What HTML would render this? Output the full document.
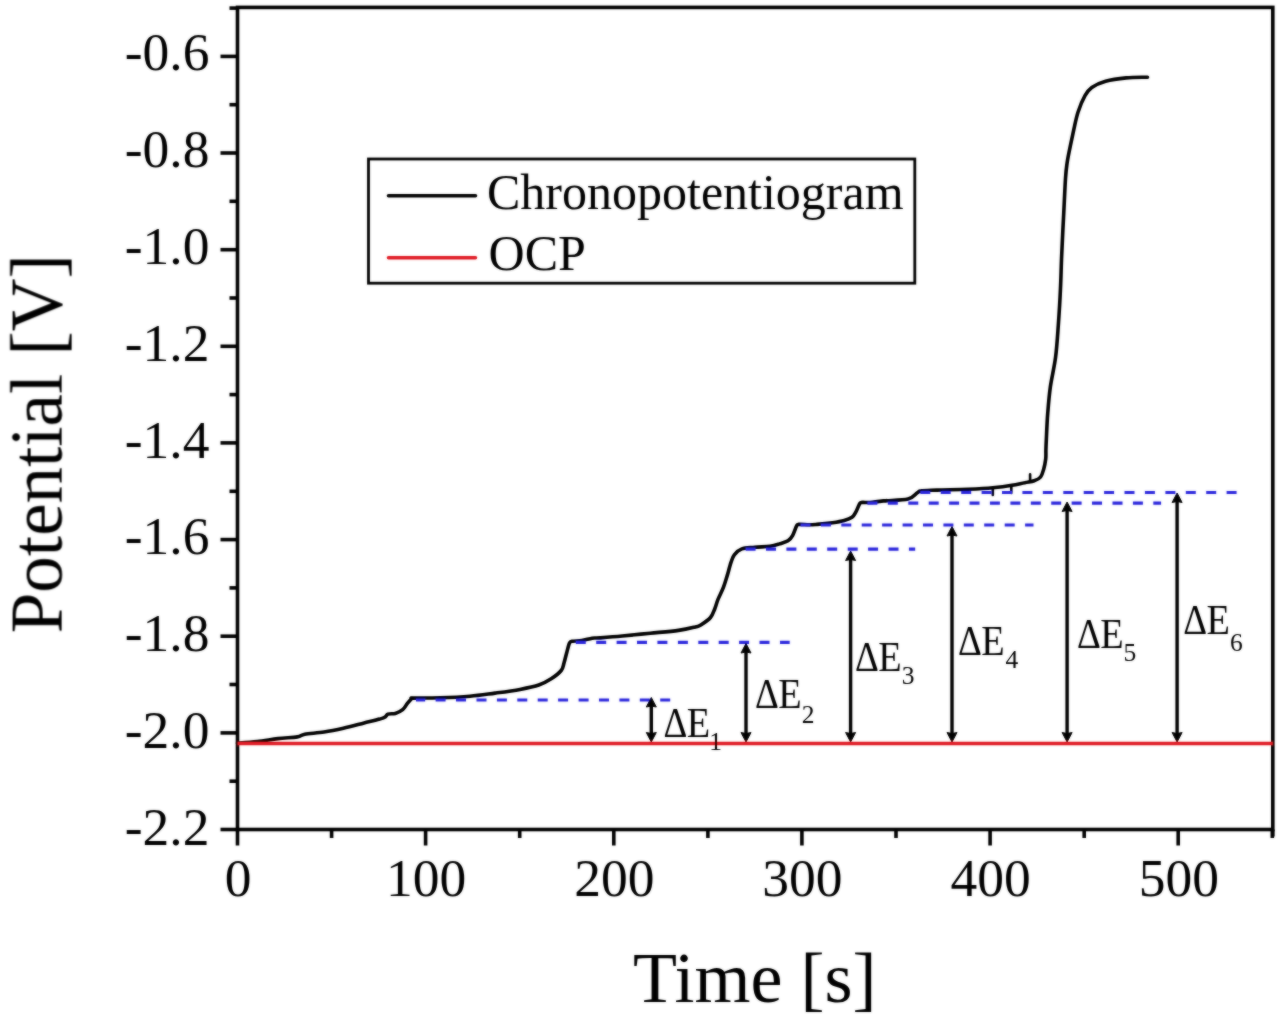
<!DOCTYPE html>
<html><head><meta charset="utf-8"><style>
html,body{margin:0;padding:0;background:#fff;width:1280px;height:1019px;overflow:hidden}
svg{display:block}
text{font-family:"Liberation Serif",serif;fill:#000}
</style></head><body>
<svg width="1280" height="1019" viewBox="0 0 1280 1019">
<defs><filter id="bl" x="-2%" y="-2%" width="104%" height="104%"><feGaussianBlur in="SourceGraphic" stdDeviation="1" result="b"/><feComposite in="SourceGraphic" in2="b" operator="arithmetic" k1="0" k2="0.50" k3="0.50" k4="0"/></filter></defs>
<g filter="url(#bl)">

<rect x="237.5" y="7.4" width="1035.3" height="822.1" fill="none" stroke="#000" stroke-width="3.6"/>
<line x1="220.5" y1="829.5" x2="237.5" y2="829.5" stroke="#000" stroke-width="3.6"/>
<text x="209.5" y="844.7" font-size="53.5" text-anchor="end">-2.2</text>
<line x1="229.5" y1="781.2" x2="237.5" y2="781.2" stroke="#000" stroke-width="3.6"/>
<line x1="220.5" y1="732.9" x2="237.5" y2="732.9" stroke="#000" stroke-width="3.6"/>
<text x="209.5" y="747.9" font-size="53.5" text-anchor="end">-2.0</text>
<line x1="229.5" y1="684.5" x2="237.5" y2="684.5" stroke="#000" stroke-width="3.6"/>
<line x1="220.5" y1="636.2" x2="237.5" y2="636.2" stroke="#000" stroke-width="3.6"/>
<text x="209.5" y="651.1" font-size="53.5" text-anchor="end">-1.8</text>
<line x1="229.5" y1="587.9" x2="237.5" y2="587.9" stroke="#000" stroke-width="3.6"/>
<line x1="220.5" y1="539.6" x2="237.5" y2="539.6" stroke="#000" stroke-width="3.6"/>
<text x="209.5" y="554.3" font-size="53.5" text-anchor="end">-1.6</text>
<line x1="229.5" y1="491.3" x2="237.5" y2="491.3" stroke="#000" stroke-width="3.6"/>
<line x1="220.5" y1="442.9" x2="237.5" y2="442.9" stroke="#000" stroke-width="3.6"/>
<text x="209.5" y="457.5" font-size="53.5" text-anchor="end">-1.4</text>
<line x1="229.5" y1="394.6" x2="237.5" y2="394.6" stroke="#000" stroke-width="3.6"/>
<line x1="220.5" y1="346.3" x2="237.5" y2="346.3" stroke="#000" stroke-width="3.6"/>
<text x="209.5" y="360.7" font-size="53.5" text-anchor="end">-1.2</text>
<line x1="229.5" y1="298.0" x2="237.5" y2="298.0" stroke="#000" stroke-width="3.6"/>
<line x1="220.5" y1="249.7" x2="237.5" y2="249.7" stroke="#000" stroke-width="3.6"/>
<text x="209.5" y="263.9" font-size="53.5" text-anchor="end">-1.0</text>
<line x1="229.5" y1="201.3" x2="237.5" y2="201.3" stroke="#000" stroke-width="3.6"/>
<line x1="220.5" y1="153.0" x2="237.5" y2="153.0" stroke="#000" stroke-width="3.6"/>
<text x="209.5" y="167.1" font-size="53.5" text-anchor="end">-0.8</text>
<line x1="229.5" y1="104.7" x2="237.5" y2="104.7" stroke="#000" stroke-width="3.6"/>
<line x1="220.5" y1="56.4" x2="237.5" y2="56.4" stroke="#000" stroke-width="3.6"/>
<text x="209.5" y="70.3" font-size="53.5" text-anchor="end">-0.6</text>
<line x1="229.5" y1="8.1" x2="237.5" y2="8.1" stroke="#000" stroke-width="3.6"/>
<line x1="237.5" y1="829.5" x2="237.5" y2="845.5" stroke="#000" stroke-width="3.6"/>
<text x="238.0" y="896" font-size="53.5" text-anchor="middle">0</text>
<line x1="331.6" y1="829.5" x2="331.6" y2="838.0" stroke="#000" stroke-width="3.6"/>
<line x1="425.6" y1="829.5" x2="425.6" y2="845.5" stroke="#000" stroke-width="3.6"/>
<text x="426.1" y="896" font-size="53.5" text-anchor="middle">100</text>
<line x1="519.7" y1="829.5" x2="519.7" y2="838.0" stroke="#000" stroke-width="3.6"/>
<line x1="613.8" y1="829.5" x2="613.8" y2="845.5" stroke="#000" stroke-width="3.6"/>
<text x="614.3" y="896" font-size="53.5" text-anchor="middle">200</text>
<line x1="707.9" y1="829.5" x2="707.9" y2="838.0" stroke="#000" stroke-width="3.6"/>
<line x1="801.9" y1="829.5" x2="801.9" y2="845.5" stroke="#000" stroke-width="3.6"/>
<text x="802.4" y="896" font-size="53.5" text-anchor="middle">300</text>
<line x1="896.0" y1="829.5" x2="896.0" y2="838.0" stroke="#000" stroke-width="3.6"/>
<line x1="990.1" y1="829.5" x2="990.1" y2="845.5" stroke="#000" stroke-width="3.6"/>
<text x="990.6" y="896" font-size="53.5" text-anchor="middle">400</text>
<line x1="1084.2" y1="829.5" x2="1084.2" y2="838.0" stroke="#000" stroke-width="3.6"/>
<line x1="1178.2" y1="829.5" x2="1178.2" y2="845.5" stroke="#000" stroke-width="3.6"/>
<text x="1178.8" y="896" font-size="53.5" text-anchor="middle">500</text>
<line x1="1272.3" y1="829.5" x2="1272.3" y2="838.0" stroke="#000" stroke-width="3.6"/>
<line x1="1272.8" y1="829.5" x2="1272.8" y2="836.5" stroke="#000" stroke-width="3.6"/>
<text x="633" y="1002.2" font-size="72">Time [s]</text>
<text transform="translate(61.6,633.3) rotate(-90)" x="0" y="0" font-size="73">Potential [V]</text>
<path d="M237.5 743.1 C240.8 742.9 250.6 742.4 257.3 741.6 C264.1 740.9 271.3 739.4 278.0 738.6 C284.7 737.8 292.8 737.6 297.3 736.9 C301.8 736.2 300.4 735.0 304.8 734.2 C309.2 733.4 317.6 733.0 324.0 732.0 C330.4 731.0 336.7 729.7 343.4 728.2 C350.1 726.7 357.4 724.7 364.1 723.0 C370.8 721.3 379.4 719.4 383.4 717.9 C387.4 716.4 385.9 714.9 387.9 714.1 C389.9 713.4 392.8 714.1 395.3 713.4 C397.8 712.7 400.7 711.3 402.7 709.7 C404.7 708.1 405.7 705.6 407.2 703.7 C408.7 701.9 410.6 699.5 411.6 698.6 C412.7 697.7 408.8 698.2 413.5 698.1 C418.2 698.0 430.6 698.1 440.0 697.8 C449.4 697.5 460.8 697.0 470.0 696.2 C479.2 695.5 486.7 694.2 495.0 693.1 C503.3 692.0 512.7 690.8 520.0 689.4 C527.3 688.0 533.5 686.8 538.8 685.0 C544.0 683.2 547.5 681.2 551.2 678.8 C555.0 676.3 559.1 673.1 561.2 670.5 C563.3 667.9 563.1 666.0 564.0 663.0 C564.9 660.0 565.8 656.0 566.7 652.7 C567.6 649.4 568.6 644.9 569.5 643.0 C570.4 641.1 570.2 641.7 572.2 641.3 C574.2 640.9 578.5 641.1 581.8 640.6 C585.1 640.1 589.1 638.7 592.1 638.2 C595.1 637.8 595.0 638.3 600.0 637.9 C605.0 637.5 613.8 636.8 622.2 636.0 C630.6 635.2 640.9 634.1 650.3 633.2 C659.7 632.3 671.0 631.5 678.5 630.4 C686.0 629.3 691.6 627.8 695.3 626.9 C699.0 626.0 698.3 626.6 700.8 625.0 C703.3 623.4 708.2 620.2 710.5 617.5 C712.8 614.8 713.5 611.9 714.8 608.8 C716.1 605.7 716.6 602.7 718.1 599.1 C719.6 595.5 722.0 591.2 723.5 587.2 C725.0 583.2 726.0 579.5 727.3 575.4 C728.5 571.3 729.8 565.8 731.0 562.4 C732.2 559.0 732.5 557.0 734.3 554.8 C736.1 552.5 738.4 550.1 741.8 548.9 C745.2 547.6 750.1 547.8 754.8 547.3 C759.5 546.8 765.9 546.8 770.0 546.2 C774.1 545.6 776.4 544.8 779.4 543.9 C782.4 543.0 785.8 542.2 788.0 540.8 C790.2 539.4 791.3 537.8 792.7 535.3 C794.1 532.8 795.6 527.7 796.6 525.9 C797.6 524.1 796.8 524.6 798.9 524.4 C801.0 524.2 806.0 524.8 809.0 524.8 C812.0 524.8 813.0 524.7 816.9 524.4 C820.8 524.1 828.0 523.4 832.5 522.8 C837.0 522.1 841.0 521.4 844.2 520.5 C847.5 519.6 850.0 518.7 852.0 517.3 C854.0 515.9 854.7 514.0 855.9 511.9 C857.1 509.8 858.2 506.4 859.1 504.8 C860.0 503.2 859.6 502.9 861.4 502.5 C863.2 502.1 866.3 502.8 870.0 502.5 C873.7 502.2 877.1 501.5 883.4 500.9 C889.7 500.3 902.4 500.5 908.0 499.1 C913.6 497.8 915.1 494.2 917.3 492.8 C919.5 491.4 918.0 491.3 921.2 490.9 C924.5 490.4 929.1 490.4 936.9 490.1 C944.7 489.8 958.8 489.7 968.1 489.3 C977.4 488.9 985.5 488.5 992.8 487.8 C1000.1 487.1 1006.6 486.2 1011.9 485.3 C1017.2 484.4 1021.0 483.4 1024.7 482.7 C1028.4 481.9 1031.6 481.8 1034.2 480.8 C1036.8 479.9 1039.0 479.0 1040.6 477.0 C1042.2 475.0 1042.9 471.7 1043.8 468.7 C1044.7 465.7 1045.3 462.2 1045.7 459.1 C1046.1 456.0 1045.8 453.1 1045.9 450.0 C1046.0 446.9 1046.0 446.2 1046.3 440.2 C1046.6 434.1 1047.0 422.5 1047.7 413.7 C1048.4 404.9 1049.0 396.6 1050.3 387.2 C1051.6 377.8 1054.3 367.4 1055.6 357.1 C1056.9 346.8 1057.5 336.5 1058.3 325.3 C1059.1 314.1 1059.9 301.4 1060.4 290.0 C1061.0 278.6 1061.1 269.0 1061.6 257.0 C1062.1 245.0 1062.8 230.9 1063.5 217.8 C1064.2 204.7 1064.9 187.6 1065.5 178.5 C1066.1 169.4 1066.3 168.6 1067.1 163.0 C1067.9 157.4 1069.3 150.9 1070.5 145.2 C1071.7 139.5 1072.8 134.2 1074.0 128.7 C1075.2 123.2 1076.2 117.7 1078.0 112.2 C1079.8 106.7 1082.7 99.8 1085.0 95.7 C1087.3 91.6 1088.4 89.9 1091.8 87.5 C1095.2 85.1 1099.9 82.9 1105.6 81.3 C1111.3 79.7 1119.2 78.6 1126.2 77.9 C1133.2 77.2 1144.0 77.3 1147.5 77.2" stroke="#000" stroke-width="3.6" fill="none" stroke-linejoin="round" stroke-linecap="round"/>
<line x1="992.8" y1="488" x2="992.8" y2="495" stroke="#000" stroke-width="2.6" stroke-linecap="round"/>
<line x1="1011.3" y1="485.5" x2="1011.3" y2="493" stroke="#000" stroke-width="2.6" stroke-linecap="round"/>
<line x1="1030.1" y1="481.5" x2="1030.1" y2="474.4" stroke="#000" stroke-width="2.6" stroke-linecap="round"/>
<path d="M416.0 700.0H425.2M435.6 700.0H445.6M456.0 700.0H466.0M476.5 700.0H486.5M496.9 700.0H506.9M517.3 700.0H527.3M537.7 700.0H547.7M558.1 700.0H568.1M578.6 700.0H588.6M599.0 700.0H609.0M619.4 700.0H629.4M639.8 700.0H649.8M660.2 700.0H670.2" stroke="#2a26dc" stroke-width="3.2" fill="none"/>
<path d="M575.8 642.4H585.8M596.2 642.4H606.2M616.6 642.4H626.6M637.0 642.4H647.0M657.4 642.4H667.4M677.9 642.4H687.9M698.3 642.4H708.3M718.7 642.4H728.7M739.1 642.4H749.1M759.5 642.4H769.5M780.0 642.4H789.7" stroke="#2a26dc" stroke-width="3.2" fill="none"/>
<path d="M745.6 549.2H755.6M766.0 549.2H776.0M786.4 549.2H796.4M806.8 549.2H816.8M827.2 549.2H837.2M847.7 549.2H857.7M868.1 549.2H878.1M888.5 549.2H898.5M908.9 549.2H915.2" stroke="#2a26dc" stroke-width="3.2" fill="none"/>
<path d="M800.5 525.0H810.5M820.9 525.0H830.9M841.3 525.0H851.3M861.7 525.0H871.7M882.1 525.0H892.1M902.6 525.0H912.6M923.0 525.0H933.0M943.4 525.0H953.4M963.8 525.0H973.8M984.2 525.0H994.2M1004.7 525.0H1014.7M1025.1 525.0H1033.5" stroke="#2a26dc" stroke-width="3.2" fill="none"/>
<path d="M867.4 503.2H877.4M887.8 503.2H897.8M908.3 503.2H918.3M928.7 503.2H938.7M949.1 503.2H959.1M969.5 503.2H979.5M989.9 503.2H999.9M1010.4 503.2H1020.4M1030.8 503.2H1040.8M1051.2 503.2H1061.2M1071.6 503.2H1081.6M1092.0 503.2H1102.0M1112.5 503.2H1122.5M1132.9 503.2H1142.9M1153.3 503.2H1161.1" stroke="#2a26dc" stroke-width="3.2" fill="none"/>
<path d="M920.3 492.5H930.3M940.7 492.5H950.7M961.2 492.5H971.2M981.6 492.5H991.6M1002.0 492.5H1012.0M1022.4 492.5H1032.4M1042.8 492.5H1052.8M1063.3 492.5H1073.3M1083.7 492.5H1093.7M1104.1 492.5H1114.1M1124.5 492.5H1134.5M1144.9 492.5H1154.9M1165.4 492.5H1175.4M1185.8 492.5H1195.8M1206.2 492.5H1216.2M1226.6 492.5H1236.6" stroke="#2a26dc" stroke-width="3.2" fill="none"/>
<line x1="651.3" y1="703.5" x2="651.3" y2="736.0" stroke="#000" stroke-width="3.4"/>
<path d="M651.3 697.5 L646.3 707.0 L651.3 706.0 L656.3 707.0 Z" fill="#000" stroke="#000" stroke-width="1" stroke-linejoin="round"/>
<path d="M651.3 742.0 L646.3 732.5 L651.3 733.5 L656.3 732.5 Z" fill="#000" stroke="#000" stroke-width="1" stroke-linejoin="round"/>
<line x1="746.0" y1="649.5" x2="746.0" y2="736.0" stroke="#000" stroke-width="3.4"/>
<path d="M746.0 643.5 L741.0 653.0 L746.0 652.0 L751.0 653.0 Z" fill="#000" stroke="#000" stroke-width="1" stroke-linejoin="round"/>
<path d="M746.0 742.0 L741.0 732.5 L746.0 733.5 L751.0 732.5 Z" fill="#000" stroke="#000" stroke-width="1" stroke-linejoin="round"/>
<line x1="850.6" y1="557.0" x2="850.6" y2="736.0" stroke="#000" stroke-width="3.4"/>
<path d="M850.6 551.0 L845.6 560.5 L850.6 559.5 L855.6 560.5 Z" fill="#000" stroke="#000" stroke-width="1" stroke-linejoin="round"/>
<path d="M850.6 742.0 L845.6 732.5 L850.6 733.5 L855.6 732.5 Z" fill="#000" stroke="#000" stroke-width="1" stroke-linejoin="round"/>
<line x1="952.0" y1="532.5" x2="952.0" y2="736.0" stroke="#000" stroke-width="3.4"/>
<path d="M952.0 526.5 L947.0 536.0 L952.0 535.0 L957.0 536.0 Z" fill="#000" stroke="#000" stroke-width="1" stroke-linejoin="round"/>
<path d="M952.0 742.0 L947.0 732.5 L952.0 733.5 L957.0 732.5 Z" fill="#000" stroke="#000" stroke-width="1" stroke-linejoin="round"/>
<line x1="1067.1" y1="508.0" x2="1067.1" y2="736.0" stroke="#000" stroke-width="3.4"/>
<path d="M1067.1 502.0 L1062.1 511.5 L1067.1 510.5 L1072.1 511.5 Z" fill="#000" stroke="#000" stroke-width="1" stroke-linejoin="round"/>
<path d="M1067.1 742.0 L1062.1 732.5 L1067.1 733.5 L1072.1 732.5 Z" fill="#000" stroke="#000" stroke-width="1" stroke-linejoin="round"/>
<line x1="1177.1" y1="499.0" x2="1177.1" y2="736.0" stroke="#000" stroke-width="3.4"/>
<path d="M1177.1 493.0 L1172.1 502.5 L1177.1 501.5 L1182.1 502.5 Z" fill="#000" stroke="#000" stroke-width="1" stroke-linejoin="round"/>
<path d="M1177.1 742.0 L1172.1 732.5 L1177.1 733.5 L1182.1 732.5 Z" fill="#000" stroke="#000" stroke-width="1" stroke-linejoin="round"/>
<path d="M237.5 743.5 L1272.8 743.5" stroke="#e01c22" stroke-width="3.5" fill="none"/>
<text transform="translate(663.59,737.1) scale(0.9,1)" font-size="41.2">&#916;</text>
<text transform="translate(686.80,737.1) scale(0.93,1)" font-size="41.2">E</text>
<text x="709.25" y="750.1" font-size="25.5">1</text>
<text transform="translate(755.09,707.7) scale(0.9,1)" font-size="41.2">&#916;</text>
<text transform="translate(778.30,707.7) scale(0.93,1)" font-size="41.2">E</text>
<text x="801.87" y="723.0" font-size="25.5">2</text>
<text transform="translate(855.09,670.6) scale(0.9,1)" font-size="41.2">&#916;</text>
<text transform="translate(878.30,670.6) scale(0.93,1)" font-size="41.2">E</text>
<text x="901.77" y="684.3" font-size="25.5">3</text>
<text transform="translate(958.09,654.5) scale(0.9,1)" font-size="41.2">&#916;</text>
<text transform="translate(981.30,654.5) scale(0.93,1)" font-size="41.2">E</text>
<text x="1005.49" y="667.7" font-size="25.5">4</text>
<text transform="translate(1077.09,647.5) scale(0.9,1)" font-size="41.2">&#916;</text>
<text transform="translate(1100.30,647.5) scale(0.93,1)" font-size="41.2">E</text>
<text x="1123.51" y="660.6" font-size="25.5">5</text>
<text transform="translate(1183.29,633.9) scale(0.9,1)" font-size="41.2">&#916;</text>
<text transform="translate(1206.50,633.9) scale(0.93,1)" font-size="41.2">E</text>
<text x="1230.10" y="651.1" font-size="25.5">6</text>
<rect x="368.5" y="159" width="546.3" height="124.2" fill="none" stroke="#000" stroke-width="2.8"/>
<line x1="388.5" y1="195.7" x2="475.5" y2="195.7" stroke="#000" stroke-width="3.6" stroke-linecap="round"/>
<line x1="388.5" y1="257.8" x2="475.5" y2="257.8" stroke="#e01c22" stroke-width="3.6" stroke-linecap="round"/>
<text x="487" y="209.2" font-size="50">Chronopotentiogram</text>
<text x="488.6" y="270" font-size="50">OCP</text>
</g></svg></body></html>
